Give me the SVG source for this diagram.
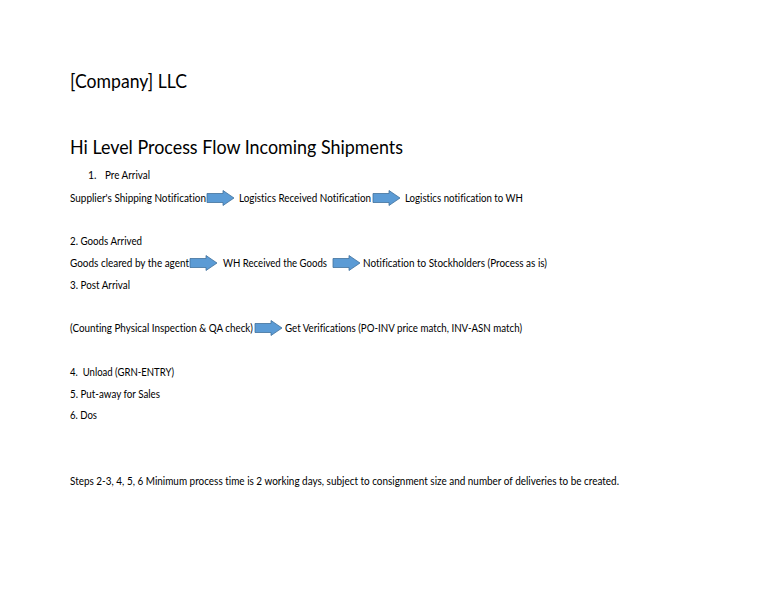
<svg xmlns="http://www.w3.org/2000/svg" width="768" height="594" viewBox="0 0 768 594">
<defs>
<style>
.t{font-family:"Lato","Noto Sans","Liberation Sans",sans-serif;font-size:10.5px;fill:#000;font-variant-ligatures:none}
.h{font-family:"Lato","Noto Sans","Liberation Sans",sans-serif;font-size:19px;fill:#000;font-variant-ligatures:none}
.arrow{fill:#5b9bd5;stroke:#41719c;stroke-width:0.8}
</style>
<path id="arr" d="M0,-4.5 H16 V-7.5 L27,0 L16,7.5 V4.5 H0 Z"/>
</defs>
<rect width="768" height="594" fill="#fff"/>
<g id="headings">
<text class="h" x="70" y="88" textLength="117" lengthAdjust="spacingAndGlyphs">[Company] LLC</text>
<text class="h" x="70" y="154" textLength="333" lengthAdjust="spacingAndGlyphs">Hi Level Process Flow Incoming Shipments</text>
</g>
<g id="step1">
<text class="t" x="88" y="179">1.</text>
<text class="t" x="105" y="179" textLength="45" lengthAdjust="spacingAndGlyphs">Pre Arrival</text>
</g>
<g id="n-supplier"><text class="t" x="70" y="202" textLength="136" lengthAdjust="spacingAndGlyphs">Supplier's Shipping Notification</text></g>
<g id="n-logrec"><text class="t" x="239" y="202" textLength="132" lengthAdjust="spacingAndGlyphs">Logistics Received Notification</text></g>
<g id="n-logwh"><text class="t" x="405" y="202" textLength="118" lengthAdjust="spacingAndGlyphs">Logistics notification to WH</text></g>
<g id="step2"><text class="t" x="70" y="245" textLength="72" lengthAdjust="spacingAndGlyphs">2. Goods Arrived</text></g>
<g id="n-cleared"><text class="t" x="70" y="267" textLength="119" lengthAdjust="spacingAndGlyphs">Goods cleared by the agent</text></g>
<g id="n-whrec"><text class="t" x="223" y="267" textLength="104" lengthAdjust="spacingAndGlyphs">WH Received the Goods</text></g>
<g id="n-notif"><text class="t" x="363" y="267" textLength="184" lengthAdjust="spacingAndGlyphs">Notification to Stockholders (Process as is)</text></g>
<g id="step3"><text class="t" x="70" y="289" textLength="60" lengthAdjust="spacingAndGlyphs">3. Post Arrival</text></g>
<g id="n-count"><text class="t" x="70" y="332" textLength="183" lengthAdjust="spacingAndGlyphs">(Counting Physical Inspection &amp; QA check)</text></g>
<g id="n-verif"><text class="t" x="285" y="332" textLength="237" lengthAdjust="spacingAndGlyphs">Get Verifications (PO-INV price match, INV-ASN match)</text></g>
<g id="step4"><text class="t" x="70" y="376" textLength="104" lengthAdjust="spacingAndGlyphs" xml:space="preserve">4.  Unload (GRN-ENTRY)</text></g>
<g id="step5"><text class="t" x="70" y="398" textLength="90" lengthAdjust="spacingAndGlyphs">5. Put-away for Sales</text></g>
<g id="step6"><text class="t" x="70" y="419" textLength="27" lengthAdjust="spacingAndGlyphs">6. Dos</text></g>
<g id="note"><text class="t" x="70" y="485" textLength="549" lengthAdjust="spacingAndGlyphs">Steps 2-3, 4, 5, 6 Minimum process time is 2 working days, subject to consignment size and number of deliveries to be created.</text></g>
<g id="connectors">
<use href="#arr" class="arrow" x="207" y="198"/>
<use href="#arr" class="arrow" x="373" y="198"/>
<use href="#arr" class="arrow" x="190" y="263"/>
<use href="#arr" class="arrow" x="333" y="263"/>
<use href="#arr" class="arrow" x="255" y="328"/>
</g>
</svg>
